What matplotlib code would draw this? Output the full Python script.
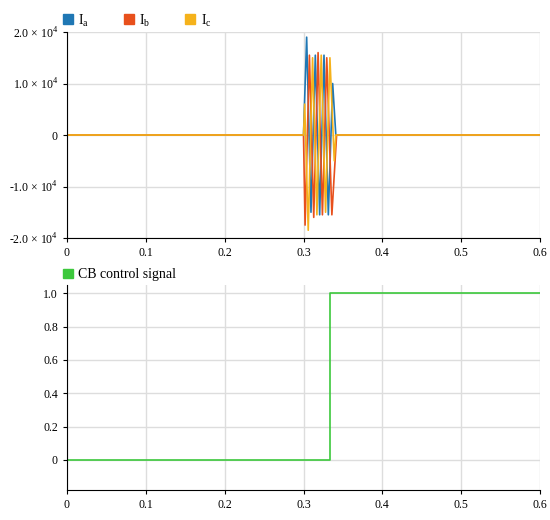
import matplotlib
matplotlib.use("Agg")
import matplotlib.pyplot as plt
from matplotlib.ticker import FuncFormatter

plt.rcParams['font.family'] = ['Liberation Serif', 'DejaVu Serif']
plt.rcParams['mathtext.fontset'] = 'custom'
plt.rcParams['mathtext.rm'] = 'Liberation Serif'

ia_t = [0, 0.300, 0.304, 0.3095, 0.315, 0.3205, 0.326, 0.3315, 0.337, 0.341, 0.6]
ia_v = [0, 0, 1.9e4, -1.5e4, 1.55e4, -1.55e4, 1.55e4, -1.55e4, 1.0e4, 0, 0]
ib_t = [0, 0.300, 0.302, 0.3075, 0.313, 0.3185, 0.324, 0.3295, 0.336, 0.342, 0.6]
ib_v = [0, 0, -1.75e4, 1.55e4, -1.6e4, 1.6e4, -1.55e4, 1.5e4, -1.55e4, 0, 0]
ic_t = [0, 0.300, 0.3015, 0.306, 0.3115, 0.317, 0.3225, 0.328, 0.3335, 0.339, 0.341, 0.6]
ic_v = [0, 0, 0.6e4, -1.85e4, 1.5e4, -1.55e4, 1.55e4, -1.5e4, 1.5e4, -0.5e4, 0, 0]
cb_t = [0, 0.333, 0.6]
cb_v = [0, 1, 1]

fig = plt.figure(figsize=(5.5, 5.2), dpi=100)
ax1 = fig.add_axes([67/550, 1-238/520, 473/550, 206/520])
ax2 = fig.add_axes([67/550, 1-490/520, 473/550, 205/520])

cols = ['#1f77b4', '#e8501c', '#f5b21b']
labs = [r'I$_\mathrm{a}$', r'I$_\mathrm{b}$', r'I$_\mathrm{c}$']
for t, v, c, lab in zip([ia_t, ib_t, ic_t], [ia_v, ib_v, ic_v], cols, labs):
    ax1.plot(t, v, color=c, lw=1.2, label=lab)
ax1.set_ylim(-2e4, 2e4)
ax1.set_yticks([-2e4, -1e4, 0, 1e4, 2e4])
def fmt(v, p):
    if v == 0:
        return '0'
    return r'%.1f $\times$ 10$^4$' % (v / 1e4)
ax1.yaxis.set_major_formatter(FuncFormatter(fmt))

ax2.step(cb_t, cb_v, where='post', color='#3cc83c', lw=1.2, label='CB control signal')
ax2.set_ylim(-0.18, 1.05)
ax2.set_yticks([0, 0.2, 0.4, 0.6, 0.8, 1.0])
ax2.yaxis.set_major_formatter(FuncFormatter(lambda v, p: '0' if v == 0 else '%.1f' % v))

for ax in (ax1, ax2):
    ax.set_xlim(0, 0.6)
    ax.set_xticks([0, 0.1, 0.2, 0.3, 0.4, 0.5, 0.6])
    ax.xaxis.set_major_formatter(FuncFormatter(lambda v, p: '0' if v == 0 else '%.1f' % v))
    ax.grid(True, color='#dddddd', lw=1)
    ax.set_axisbelow(True)
    ax.tick_params(labelsize=8.5, length=3)
    for s in ('top', 'right'):
        ax.spines[s].set_visible(False)
    handles = [plt.Rectangle((0, 0), 1, 1, color=l.get_color()) for l in ax.get_lines()]
    labels = [l.get_label() for l in ax.get_lines()]
    ax.legend(handles, labels, loc='lower left', bbox_to_anchor=(-0.02, 0.99), ncol=3, frameon=False,
              fontsize=10, handlelength=0.7, handleheight=0.7, columnspacing=2.5,
              handletextpad=0.4, borderaxespad=0)

fig.savefig('out.png')
